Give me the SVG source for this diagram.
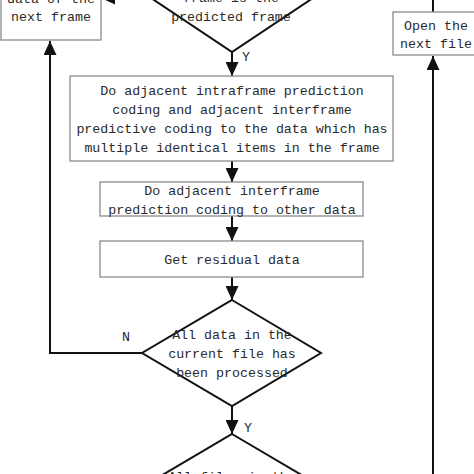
<svg xmlns="http://www.w3.org/2000/svg" width="474" height="474" viewBox="0 0 474 474">
<defs>
<marker id="ah" markerUnits="userSpaceOnUse" markerWidth="14" markerHeight="13" refX="14" refY="6.5" orient="auto">
<path d="M0,0 L14,6.5 L0,13 z" fill="#111"/>
</marker>
<style>
.box{fill:#fff;stroke:#8a8a8a;stroke-width:1.3}
.dia{fill:#fff;stroke:#111;stroke-width:2}
.t{font-family:"Liberation Mono","DejaVu Sans Mono",monospace;font-size:13.3px;fill:#2a2a2a;text-anchor:middle}
.lbl{font-family:"Liberation Mono","DejaVu Sans Mono",monospace;font-size:13.3px;fill:#2a2a2a}
.c{fill:none;stroke:#111;stroke-width:2}
</style>
</defs>
<rect width="474" height="474" fill="#fff"/>
<g id="connectors">
<path class="c" d="M151,-2 L101,-2" marker-end="url(#ah)"/>
<path class="c" d="M232,52 L232,76" marker-end="url(#ah)"/>
<path class="c" d="M232,161 L232,182" marker-end="url(#ah)"/>
<path class="c" d="M232,216 L232,241" marker-end="url(#ah)"/>
<path class="c" d="M232,277 L232,300" marker-end="url(#ah)"/>
<path class="c" d="M142,353 L50,353 L50,41" marker-end="url(#ah)"/>
<path class="c" d="M232,406 L232,434" marker-end="url(#ah)"/>
<path class="c" d="M433,474 L433,56" marker-end="url(#ah)"/>
<path class="c" d="M433,12 L433,0"/>
<text class="lbl" x="242" y="61">Y</text>
<text class="lbl" x="122" y="341">N</text>
<text class="lbl" x="244" y="432">Y</text>
</g>
<g id="box-next-frame">
<rect class="box" x="1" y="-30" width="100" height="70"/>
<text class="t" x="51" y="2.5">data of the</text>
<text class="t" x="51" y="21">next frame</text>
</g>
<g id="dec-predicted">
<polygon class="dia" points="232,-56 313,-2 232,52 151,-2"/>
<text class="t" x="231" y="1.5">frame is the</text>
<text class="t" x="231" y="20.5">predicted frame</text>
</g>
<g id="box-open-next">
<rect class="box" x="393" y="12" width="90" height="43"/>
<text class="t" x="436" y="30">Open the</text>
<text class="t" x="436" y="48">next file</text>
</g>
<g id="box-intraframe">
<rect class="box" x="70" y="76" width="323" height="85"/>
<text class="t" x="232" y="95">Do adjacent intraframe prediction</text>
<text class="t" x="232" y="114">coding and adjacent interframe</text>
<text class="t" x="232" y="132.5">predictive coding to the data which has</text>
<text class="t" x="232" y="151.5">multiple identical items in the frame</text>
</g>
<g id="box-interframe">
<rect class="box" x="100" y="182" width="263" height="34"/>
<text class="t" x="232" y="194.5">Do adjacent interframe</text>
<text class="t" x="232" y="213.5">prediction coding to other data</text>
</g>
<g id="box-residual">
<rect class="box" x="100" y="241" width="263" height="36"/>
<text class="t" x="232" y="263.5">Get residual data</text>
</g>
<g id="dec-all-data">
<polygon class="dia" points="232,300 321,353 232,406 142,353"/>
<text class="t" x="232" y="338.5">All data in the</text>
<text class="t" x="232" y="357.5">current file has</text>
<text class="t" x="232" y="376.5">been processed</text>
</g>
<g id="dec-all-files">
<polygon class="dia" points="232,434 322,487 232,540 142,487"/>
<text class="t" x="232" y="481">All files in the</text>
</g>
</svg>
